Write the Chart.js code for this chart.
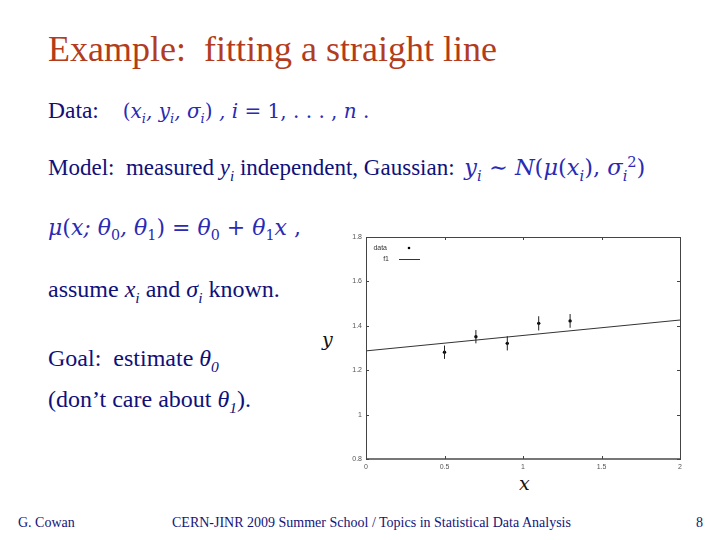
<!DOCTYPE html>
<html>
<head>
<meta charset="utf-8">
<script src="https://cdn.jsdelivr.net/npm/chart.js@4.4.0/dist/chart.umd.min.js"></script>
<style>
  body { margin: 0; width: 720px; height: 540px; background: #fff; position: relative; overflow: hidden;
         font-family: "Liberation Serif", "Times New Roman", serif; }
  .t { position: absolute; white-space: nowrap; line-height: 1; color: #10107a; }
  .m { color: #2a2ab4; font-style: italic; font-family: "DejaVu Serif", serif; }
  .r { font-style: normal; }
  sub, sup { font-size: 65%; line-height: 0; }
  #title { left: 48px; top: 31px; font-size: 36px; color: #b23c1c; }
  #wrap { position: absolute; left: 330px; top: 220px; width: 370px; height: 280px; }
  .foot { font-size: 14px; top: 516px; color: #14147a; }
</style>
</head>
<body>
<div class="t" id="title">Example:&nbsp; fitting a straight line</div>

<div class="t" style="left:48px;top:99px;font-size:23.5px;">Data:
  <span class="m" style="margin-left:18px;font-size:20px;"><span class="r">(</span>x<sub>i</sub>, y<sub>i</sub>, σ<sub>i</sub><span class="r">)</span> , i <span class="r">= 1, . . . ,</span> n <span class="r">.</span></span></div>

<div class="t" style="left:48px;top:156px;font-size:23px;">Model:&nbsp; measured <i>y<sub>i</sub></i> independent, Gaussian:
  <span class="m" style="margin-left:4px;font-size:22.5px;">y<sub>i</sub> <span class="r">∼</span> N<span class="r">(</span>μ<span class="r">(</span>x<sub>i</sub><span class="r">),</span> σ<sub>i</sub><sup class="r">2</sup><span class="r">)</span></span></div>

<div class="t m" style="left:48px;top:217px;font-size:22px;">μ<span class="r">(</span>x; θ<sub class="r">0</sub>, θ<sub class="r">1</sub><span class="r">) = </span>θ<sub class="r">0</sub> <span class="r">+</span> θ<sub class="r">1</sub>x <span class="r">,</span></div>

<div class="t" style="left:48px;top:277px;font-size:24px;">assume <i>x<sub>i</sub></i> and <i>σ<sub>i</sub></i> known.</div>
<div class="t" style="left:48px;top:346px;font-size:24px;">Goal:&nbsp; estimate <i>θ<sub>0</sub></i></div>
<div class="t" style="left:48px;top:387px;font-size:24px;">(don’t care about <i>θ<sub>1</sub></i>).</div>

<div class="t m" style="left:322px;top:330px;font-size:19px;color:#111;">y</div>
<div class="t m" style="left:519px;top:474px;font-size:19px;color:#111;">x</div>

<div id="wrap"><canvas id="fitChart"></canvas></div>

<div class="t foot" style="left:18px;">G. Cowan</div>
<div class="t foot" style="left:172px;">CERN-JINR 2009 Summer School / Topics in Statistical Data Analysis</div>
<div class="t foot" style="left:696px;">8</div>

<script>
// measured points (x, y, sigma)
const xData = [0.5, 0.7, 0.9, 1.1, 1.3];
const yData = [1.281, 1.351, 1.321, 1.411, 1.422];
const yErr = [0.03, 0.03, 0.032, 0.032, 0.031];

// fitted straight line f1
const fitX = [0, 2];
const fitY = [1.287, 1.426];

const xTicks = [0, 0.5, 1, 1.5, 2];
const yTicks = [0.8, 1, 1.2, 1.4, 1.6, 1.8];

const tickFmt = v => String(+Number(v).toFixed(1));

const gnuplotFrame = {
  id: 'gnuplotFrame',
  afterDatasetsDraw(chart) {
    const { ctx, chartArea: a, scales: { x, y } } = chart;
    ctx.save();

    // error bars
    ctx.strokeStyle = '#222';
    ctx.lineWidth = 1;
    xData.forEach((xv, i) => {
      const px = x.getPixelForValue(xv);
      ctx.beginPath();
      ctx.moveTo(px, y.getPixelForValue(yData[i] - yErr[i]));
      ctx.lineTo(px, y.getPixelForValue(yData[i] + yErr[i]));
      ctx.stroke();
    });

    // box + inward tick marks
    ctx.strokeStyle = '#444';
    ctx.strokeRect(a.left + 0.5, a.top + 0.5, a.right - a.left, a.bottom - a.top);
    ctx.strokeStyle = '#777';
    ctx.lineWidth = 2;
    ctx.beginPath();
    ctx.moveTo(a.left, a.bottom);
    ctx.lineTo(a.right, a.bottom);
    ctx.stroke();

    ctx.strokeStyle = '#444';
    ctx.lineWidth = 1;
    const tl = 3;
    ctx.beginPath();
    yTicks.forEach(v => {
      const py = Math.round(y.getPixelForValue(v)) + 0.5;
      ctx.moveTo(a.left, py); ctx.lineTo(a.left + tl, py);
      ctx.moveTo(a.right, py); ctx.lineTo(a.right - tl, py);
    });
    xTicks.forEach(v => {
      const px = Math.round(x.getPixelForValue(v)) + 0.5;
      ctx.moveTo(px, a.bottom); ctx.lineTo(px, a.bottom - tl);
      ctx.moveTo(px, a.top); ctx.lineTo(px, a.top + tl);
    });
    ctx.stroke();

    // key
    ctx.fillStyle = '#333';
    ctx.font = '7px "Liberation Sans", Arial, sans-serif';
    ctx.textAlign = 'right';
    ctx.textBaseline = 'middle';
    ctx.fillText('data', a.left + 21, a.top + 11);
    ctx.fillText('f1', a.left + 23, a.top + 22);
    ctx.fillStyle = '#000';
    ctx.beginPath();
    ctx.arc(a.left + 43, a.top + 11, 1.3, 0, Math.PI * 2);
    ctx.fill();
    ctx.strokeStyle = '#333';
    ctx.beginPath();
    ctx.moveTo(a.left + 33, a.top + 22.5);
    ctx.lineTo(a.left + 54, a.top + 22.5);
    ctx.stroke();
    ctx.restore();
  }
};

new Chart(document.getElementById('fitChart').getContext('2d'), {
  type: 'scatter',
  data: {
    datasets: [
      {
        label: 'data',
        data: xData.map((v, i) => ({ x: v, y: yData[i] })),
        backgroundColor: '#000',
        borderWidth: 0,
        pointRadius: 1.7,
      },
      {
        label: 'f1',
        data: fitX.map((v, i) => ({ x: v, y: fitY[i] })),
        showLine: true,
        borderColor: '#333',
        borderWidth: 1,
        pointRadius: 0,
      },
    ],
  },
  options: {
    responsive: true,
    maintainAspectRatio: false,
    animation: false,
    layout: { padding: { top: 17, right: 20, left: 0, bottom: 0 } },
    plugins: { legend: { display: false }, tooltip: { enabled: false } },
    scales: {
      x: {
        type: 'linear', min: 0, max: 2,
        afterBuildTicks: s => { s.ticks = xTicks.map(v => ({ value: v })); },
        afterFit: s => { s.height = 41; },
        grid: { display: false, drawTicks: false },
        border: { display: false },
        ticks: { color: '#555', padding: 4, font: { size: 7, family: '"Liberation Sans", Arial, sans-serif' }, callback: tickFmt },
      },
      y: {
        type: 'linear', min: 0.8, max: 1.8,
        afterBuildTicks: s => { s.ticks = yTicks.map(v => ({ value: v })); },
        afterFit: s => { s.width = 36; },
        grid: { display: false, drawTicks: false },
        border: { display: false },
        ticks: { color: '#555', padding: 4, font: { size: 7, family: '"Liberation Sans", Arial, sans-serif' }, callback: tickFmt },
      },
    },
  },
  plugins: [gnuplotFrame],
});
</script>
</body>
</html>
